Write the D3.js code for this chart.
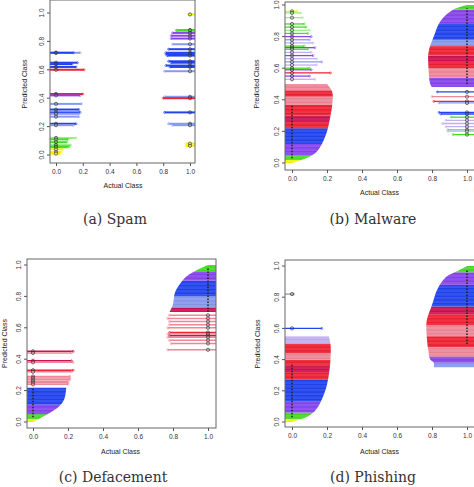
<!DOCTYPE html>
<html><head><meta charset="utf-8">
<script src="https://cdn.jsdelivr.net/npm/d3@7/dist/d3.min.js"></script>
<style>body{margin:0;background:#fff}</style></head>
<body><svg id="c" width="474" height="487"></svg>
<script>
const ticks = [0, 0.2, 0.4, 0.6, 0.8, 1.0];
const captions = ["(a) Spam", "(b) Malware", "(c) Defacement", "(d) Phishing"];
// colour keys
const C = {Y:"#f2f20a",G:"#44dd22",P:"#8844ee",B:"#2244ee",L:"#8899ee",R:"#ee2233",K:"#ee8899",M:"#cc1150",V:"#c0b0f0",LG:"#99ee88",GR:"#999999"};
// sparse segments: [actualClass, predicted, length, colourKey]
const spamLines = [
 [0,.72,.18,"L"],[0,.72,.13,"B"],[0,.65,.16,"B"],[0,.64,.12,"B"],[0,.62,.15,"B"],[0,.60,.21,"R"],[0,.43,.20,"R"],[0,.42,.18,"P"],
 [0,.36,.19,"L"],[0,.32,.17,"B"],[0,.30,.18,"B"],[0,.29,.17,"L"],[0,.27,.17,"L"],[0,.22,.15,"B"],[0,.21,.13,"L"],
 [0,.12,.15,"LG"],[0,.11,.09,"G"],[0,.09,.08,"G"],[0,.07,.11,"LG"],[0,.06,.10,"G"],[0,.055,.08,"G"],[0,.04,.05,"Y"],[0,.02,.04,"Y"],[0,.01,.03,"Y"],
 [1,.99,.01,"Y"],[1,.88,.10,"G"],[1,.876,.10,"G"],[1,.86,.13,"P"],[1,.84,.14,"P"],[1,.82,.14,"P"],[1,.78,.13,"L"],[1,.745,.16,"B"],[1,.72,.18,"B"],
 [1,.71,.18,"B"],[1,.70,.17,"B"],[1,.66,.16,"B"],[1,.65,.14,"B"],[1,.63,.18,"B"],[1,.62,.15,"B"],[1,.59,.19,"L"],[1,.41,.19,"L"],[1,.40,.20,"R"],
 [1,.30,.19,"B"],[1,.22,.16,"L"],[1,.21,.13,"L"],[1,.08,.03,"Y"],[1,.065,.03,"Y"]
];
const malwareLines = [
 [0,.96,.03,"Y"],[0,.95,.05,"LG"],[0,.92,.06,"LG"],[0,.88,.07,"G"],[0,.86,.08,"G"],[0,.84,.10,"LG"],[0,.82,.09,"G"],[0,.80,.11,"P"],[0,.78,.10,"L"],
 [0,.76,.12,"V"],[0,.74,.07,"G"],[0,.73,.13,"P"],[0,.72,.09,"G"],[0,.70,.11,"V"],[0,.68,.12,"P"],[0,.66,.14,"V"],[0,.64,.17,"L"],[0,.62,.14,"V"],
 [0,.60,.10,"G"],[0,.59,.11,"P"],[0,.57,.22,"R"],[0,.55,.10,"P"],[0,.53,.13,"V"],
 [1,.45,.17,"B"],[1,.42,.20,"K"],[1,.39,.19,"R"],[1,.38,.16,"L"],[1,.32,.16,"B"],[1,.31,.15,"B"],[1,.29,.09,"G"],[1,.27,.12,"V"],[1,.25,.14,"V"],
 [1,.23,.12,"V"],[1,.21,.11,"L"],[1,.20,.11,"LG"],[1,.18,.08,"G"]
];
const defaceLines = [
 [0,.45,.23,"M"],[0,.44,.22,"K"],[0,.39,.22,"M"],[0,.38,.23,"K"],[0,.33,.23,"R"],[0,.32,.22,"K"],[0,.29,.21,"K"],[0,.28,.21,"K"],[0,.27,.21,"K"],
 [0,.26,.20,"K"],[0,.25,.20,"K"],[0,.24,.20,"K"],
 [1,.68,.22,"K"],[1,.66,.23,"K"],[1,.64,.22,"K"],[1,.62,.22,"K"],[1,.60,.23,"K"],[1,.57,.22,"R"],[1,.56,.23,"K"],[1,.55,.22,"M"],[1,.54,.23,"K"],
 [1,.52,.22,"K"],[1,.50,.21,"K"],[1,.46,.23,"K"]
];
const phishLines = [[0,.60,.17,"B"],[0,.82,.01,"GR"]];
// dense envelopes: [predicted, length]
const malwareEnv0 = [[0,0],[.03,.08],[.06,.13],[.1,.16],[.2,.2],[.3,.22],[.37,.23],[.45,.23],[.5,.2]];
const malwareEnv1 = [[.48,.2],[.5,.21],[.6,.22],[.7,.22],[.8,.19],[.9,.15],[.97,.08],[1,0]];
const defaceEnv0 = [[0,0],[.03,.05],[.06,.1],[.1,.15],[.15,.18],[.22,.19]];
const defaceEnv1 = [[.70,.22],[.75,.2],[.82,.19],[.88,.16],[.93,.12],[.97,.06],[1,0]];
const phishEnv0 = [[0,0],[.03,.08],[.06,.12],[.1,.15],[.2,.19],[.3,.21],[.4,.22],[.5,.22],[.55,.21]];
const phishEnv1 = [[.35,.19],[.38,.19],[.40,.21],[.45,.22],[.55,.23],[.65,.23],[.75,.2],[.85,.17],[.93,.12],[.97,.05],[1,0]];
// colour bands: [from, to, colourKey]
const malwareBands0 = [[0,.02,"Y"],[.02,.05,"G"],[.05,.12,"P"],[.12,.22,"B"],[.22,.26,"R"],[.26,.30,"M"],[.30,.37,"R"],[.37,.42,"K"],[.42,.46,"R"],[.46,.5,"K"]];
const malwareBands1 = [[.48,.54,"P"],[.54,.6,"K"],[.6,.64,"R"],[.64,.68,"M"],[.68,.74,"R"],[.74,.78,"L"],[.78,.88,"B"],[.88,.97,"P"],[.97,1,"G"]];
const defaceBands0 = [[0,.02,"Y"],[.02,.05,"G"],[.05,.11,"P"],[.11,.22,"B"]];
const defaceBands1 = [[.70,.73,"M"],[.73,.8,"L"],[.8,.9,"B"],[.9,.96,"P"],[.96,1,"G"]];
const phishBands0 = [[0,.02,"Y"],[.02,.06,"G"],[.06,.13,"P"],[.13,.27,"B"],[.27,.32,"R"],[.32,.36,"M"],[.36,.40,"R"],[.40,.44,"K"],[.44,.50,"R"],[.50,.55,"V"]];
const phishBands1 = [[.35,.38,"L"],[.38,.42,"P"],[.42,.48,"K"],[.48,.55,"R"],[.55,.62,"K"],[.62,.69,"R"],[.69,.74,"M"],[.74,.88,"B"],[.88,.96,"P"],[.96,1,"G"]];

const panels = [
 {box:[50,0,195,163], x0:56,x1:190, y0:155,y1:13, axY:188, ylX:27, capY:224, capX:115, lines:spamLines, dense:[], lw:2},
 {box:[285,2,480,170], x0:292,x1:467, y0:163,y1:5, axY:195, ylX:259, capY:224, capX:373, lines:malwareLines, lw:1.3,
  dense:[[0,malwareEnv0,malwareBands0],[1,malwareEnv1,malwareBands1]]},
 {box:[27,259,216,428], x0:33,x1:208, y0:422,y1:265, axY:454, ylX:7, capY:482, capX:113, lines:defaceLines, lw:1.5,
  dense:[[0,defaceEnv0,defaceBands0],[1,defaceEnv1,defaceBands1]]},
 {box:[285,260,480,427], x0:292,x1:467, y0:422,y1:266, axY:454, ylX:260, capY:482, capX:373, lines:phishLines, lw:1.3,
  dense:[[0,phishEnv0,phishBands0],[1,phishEnv1,phishBands1]]}
];
const svg = d3.select("#c");
panels.forEach((p,i)=>{
  const x = d3.scaleLinear().domain([0,1]).range([p.x0,p.x1]);
  const y = d3.scaleLinear().domain([0,1]).range([p.y0,p.y1]);
  const g = svg.append("g");
  const cid = "clip"+i;
  g.append("clipPath").attr("id",cid).append("rect").attr("x",p.box[0]).attr("y",p.box[1]).attr("width",p.box[2]-p.box[0]).attr("height",p.box[3]-p.box[1]);
  const plot = g.append("g").attr("clip-path",`url(#${cid})`);
  const edge = c => c===0 ? x.invert(p.box[0]) : x.invert(p.box[2]);
  p.dense.forEach(([cls,env,bands])=>{
    const ev = env.map(e=>e[0]);
    const w = d3.scaleLinear().domain(ev).range(env.map(e=>e[1])).clamp(true);
    // smooth envelope path in pixel space, sampled for drawing only
    const smooth = d3.line().curve(d3.curveCatmullRom).x(e=>x(cls===0?e[1]:1-e[1])).y(e=>y(e[0]));
    const eid = `env${i}_${cls}`;
    const lo = ev[0], hi = ev[ev.length-1];
    const poly = [[lo,0],...env,[hi,0]];
    g.append("clipPath").attr("id",eid).append("path")
      .attr("d", smooth(env) + `L${x(edge(cls))},${y(hi)}L${x(edge(cls))},${y(lo)}Z`);
    const dg = plot.append("g").attr("clip-path",`url(#${eid})`);
    bands.forEach(([a,b,k])=>{
      dg.append("rect").attr("x",p.box[0]-5).attr("width",p.box[2]-p.box[0]+10)
        .attr("y",y(b)).attr("height",y(a)-y(b)).attr("fill",C[k]);
    });
    // stripes
    d3.range(lo,hi,0.008).forEach((v,j)=>{
      dg.append("line").attr("x1",p.box[0]-5).attr("x2",p.box[2]+5)
        .attr("y1",y(v)).attr("y2",y(v)).attr("stroke",j%3?"#fff":"#000").attr("stroke-opacity",j%3?.18:.08).attr("stroke-width",.6);
    });
    plot.append("line").attr("x1",x(cls)).attr("x2",x(cls)).attr("y1",y(cls===0?lo+.03:Math.max(lo,.5))).attr("y2",y(cls===0?Math.min(hi,.37):hi-.02))
      .attr("stroke","#222").attr("stroke-width",1.5).attr("stroke-dasharray","1.5,1.5");
  });
  p.lines.forEach(([cls,v,len,k])=>{
    const end = cls===0 ? len : 1-len;
    plot.append("line").attr("x1",x(edge(cls))).attr("x2",x(end)).attr("y1",y(v)).attr("y2",y(v))
      .attr("stroke",C[k]).attr("stroke-width",p.lw);
    plot.append("circle").attr("cx",x(end)).attr("cy",y(v)).attr("r",1).attr("fill","none").attr("stroke",C[k]).attr("stroke-width",.6);
    plot.append("circle").attr("cx",x(cls)).attr("cy",y(v)).attr("r",1.6).attr("fill","none").attr("stroke","#333").attr("stroke-width",.7);
  });
  g.append("rect").attr("x",p.box[0]).attr("y",p.box[1]).attr("width",p.box[2]-p.box[0]).attr("height",p.box[3]-p.box[1])
    .attr("fill","none").attr("stroke","#666").attr("stroke-width",1);
  const ax = g.append("g").attr("transform",`translate(0,${p.box[3]})`).call(d3.axisBottom(x).tickValues(ticks).tickFormat(d3.format(".1f")).tickSize(3));
  const ay = g.append("g").attr("transform",`translate(${p.box[0]},0)`).call(d3.axisLeft(y).tickValues(ticks).tickFormat(d3.format(".1f")).tickSize(3));
  [ax,ay].forEach(a=>{a.select(".domain").remove(); a.selectAll("line").attr("stroke","#555");
    a.selectAll("text").attr("font-family","Liberation Sans, Arial").attr("font-size",6.5).attr("fill","#333");});
  ax.selectAll("text").attr("y",6);
  ay.selectAll(".tick").attr("transform","translate(0,0)").each(function(d){
    const t=d3.select(this);
    t.select("line").attr("y1",y(d)).attr("y2",y(d));
    t.select("text").attr("x",null).attr("dy",null).attr("y",0).attr("text-anchor","middle")
      .attr("transform",`translate(-6,${y(d)}) rotate(-90)`);
  });
  g.append("text").attr("x",(p.x0+p.x1)/2).attr("y",p.axY).attr("text-anchor","middle").attr("font-family","Liberation Sans, Arial").attr("font-size",7).attr("fill","#222").text("Actual Class");
  g.append("text").attr("transform",`translate(${p.ylX},${(p.y0+p.y1)/2}) rotate(-90)`).attr("text-anchor","middle").attr("font-family","Liberation Sans, Arial").attr("font-size",7).attr("fill","#222").text("Predicted Class");
  g.append("text").attr("x",p.capX).attr("y",p.capY).attr("text-anchor","middle").attr("font-family","DejaVu Serif, Liberation Serif, serif").attr("font-size",14).attr("fill","#333").text(captions[i]);
});
</script></body></html>
